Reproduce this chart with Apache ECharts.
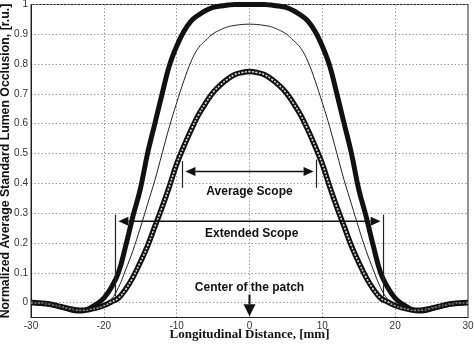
<!DOCTYPE html>
<html>
<head>
<meta charset="utf-8">
<script src="https://cdn.jsdelivr.net/npm/echarts@6/dist/echarts.min.js"></script>
<style>html,body{margin:0;padding:0;background:#fff}#c{width:474px;height:345px}</style>
</head>
<body>
<div id="c"></div>
<script>
// Longitudinal distance [mm]
const xs = [-30,-29,-28,-27,-26,-25,-24,-23,-22,-21,-20,-19,-18,-17,-16,-15,-14,-13,-12,-11,-10,-9,-8,-7,-6,-5,-4,-3,-2,-1,0,
            1,2,3,4,5,6,7,8,9,10,11,12,13,14,15,16,17,18,19,20,21,22,23,24,25,26,27,28,29,30];
// Outer thick curve (peak 1.0, flat top)
const outerCurve = [0,-0.002,-0.004,-0.008,-0.014,-0.021,-0.027,-0.028,-0.02,-0.005,0.015,0.05,0.10,0.19,0.29,0.38,0.50,0.60,0.70,0.795,0.86,0.91,0.945,0.965,0.98,0.99,0.995,0.998,1.0,1.0,1.0,
                    1.0,1.0,0.998,0.995,0.99,0.98,0.965,0.945,0.91,0.86,0.795,0.70,0.60,0.50,0.38,0.29,0.19,0.10,0.05,0.015,-0.005,-0.02,-0.028,-0.027,-0.021,-0.014,-0.008,-0.004,-0.002,0];
// Thin curve (peak ~0.934)
const thinCurve = [0,-0.001,-0.003,-0.007,-0.013,-0.019,-0.024,-0.025,-0.022,-0.016,-0.008,0.01,0.05,0.11,0.175,0.25,0.33,0.41,0.50,0.59,0.67,0.745,0.81,0.855,0.88,0.902,0.915,0.925,0.93,0.933,0.934,
                   0.933,0.93,0.925,0.915,0.902,0.88,0.855,0.81,0.745,0.67,0.59,0.50,0.41,0.33,0.25,0.175,0.11,0.05,0.01,-0.008,-0.016,-0.022,-0.025,-0.024,-0.019,-0.013,-0.007,-0.003,-0.001,0];
// Circle-marker curve (peak ~0.775)
const circleCurve = [0,-0.001,-0.003,-0.007,-0.013,-0.019,-0.024,-0.026,-0.023,-0.018,-0.01,0.002,0.015,0.045,0.085,0.135,0.19,0.255,0.32,0.39,0.465,0.525,0.58,0.63,0.67,0.705,0.73,0.75,0.765,0.772,0.775,
                     0.772,0.765,0.75,0.73,0.705,0.67,0.63,0.58,0.525,0.465,0.39,0.32,0.255,0.19,0.135,0.085,0.045,0.015,0.002,-0.01,-0.018,-0.023,-0.026,-0.024,-0.019,-0.013,-0.007,-0.003,-0.001,0];
// Tick values
const xTicks = [-30,-20,-10,0,10,20,30];
const yTicks = [0,0.1,0.2,0.3,0.4,0.5,0.6,0.7,0.8,0.9,1];
// Annotations (data coordinates)
const annoTexts = [
  {text:'Average Scope', at:[0,0.373]},
  {text:'Extended Scope', at:[0.3,0.231]},
  {text:'Center of the patch', at:[0,0.051]}
];
const annoLines = [
  [-9.2,0.475,-9.2,0.385],[9.2,0.48,9.2,0.385],
  [-18.4,0.295,-18.4,0.02],[18.4,0.295,18.4,0.02]
];
// arrows: [x1,y1,x2,y2,headAt1,headAt2]
const annoArrows = [
  [-8.8,0.44,8.8,0.44,true,true],
  [-18.0,0.273,18.0,0.273,true,true],
  [0,0.027,0,-0.046,false,true]
];

const pairs = arr => xs.map((x,i)=>[x,arr[i]]);
const font = 'Liberation Sans, Arial, Helvetica, sans-serif';

function head(tip, from, len, wid){
  const dx = tip[0]-from[0], dy = tip[1]-from[1];
  const d = Math.hypot(dx,dy)||1, ux=dx/d, uy=dy/d;
  const bx = tip[0]-ux*len, by = tip[1]-uy*len;
  return [[tip[0],tip[1]],[bx-uy*wid/2,by+ux*wid/2],[bx+uy*wid/2,by-ux*wid/2]];
}

const chart = echarts.init(document.getElementById('c'), null, {renderer:'canvas'});
chart.setOption({
  animation:false,
  backgroundColor:'#fff',
  grid:{left:31,right:6,top:4.5,bottom:27.5,show:true,borderColor:'#222',borderWidth:1,backgroundColor:'transparent',
        containLabel:false,outerBoundsMode:'none'},
  xAxis:{
    type:'value',min:-30,max:30,interval:10,
    axisLine:{show:true,onZero:false,lineStyle:{color:'#222',width:1}},
    axisTick:{show:false},
    splitLine:{show:true,lineStyle:{color:'#9a9a9a',width:1,type:[1.5,2]}},
    axisLabel:{color:'#333',fontSize:10,fontFamily:font,margin:4,customValues:xTicks},
    name:'Longitudinal Distance, [mm]',nameLocation:'middle',nameGap:11,nameMoveOverlap:false,
    nameTextStyle:{fontFamily:'Liberation Serif, Times New Roman, serif',fontWeight:'bold',fontSize:13,color:'#111'}
  },
  yAxis:{
    type:'value',min:-0.05,max:1,
    axisLine:{show:true,onZero:false,lineStyle:{color:'#222',width:1}},
    axisTick:{show:false,customValues:yTicks},
    splitLine:{show:true,lineStyle:{color:'#9a9a9a',width:1,type:[1.5,2]}},
    axisLabel:{color:'#333',fontSize:10,fontFamily:font,margin:3,customValues:yTicks,
      formatter:v=>String(+(+v).toFixed(1))},
    name:'Normalized Average Standard Lumen Occlusion, [r.u.]',nameLocation:'middle',nameGap:19,nameRotate:90,nameMoveOverlap:false,
    nameTextStyle:{fontFamily:font,fontWeight:'bold',fontSize:12.3,color:'#111'}
  },
  series:[
    {type:'line',data:pairs(outerCurve),smooth:0.4,showSymbol:false,lineStyle:{color:'#111',width:5},z:2},
    {type:'line',data:pairs(circleCurve),smooth:0.4,showSymbol:false,lineStyle:{color:'#111',width:5.5},z:3},
    {type:'line',data:pairs(circleCurve),smooth:0.4,showSymbol:false,lineStyle:{color:'#d8d8d8',width:1.6,type:[2,1.5]},z:4},
    {type:'line',data:pairs(thinCurve),smooth:0.4,showSymbol:false,lineStyle:{color:'#222',width:1},z:5},
    {type:'custom',coordinateSystem:'cartesian2d',data:[[0,0]],silent:true,z:10,clip:false,
      renderItem:(params,api)=>{
        const ch=[];
        annoLines.forEach(l=>{
          const p1=api.coord([l[0],l[1]]),p2=api.coord([l[2],l[3]]);
          ch.push({type:'line',shape:{x1:p1[0],y1:p1[1],x2:p2[0],y2:p2[1]},style:{stroke:'#222',lineWidth:1.2}});
        });
        annoArrows.forEach(a=>{
          const p1=api.coord([a[0],a[1]]),p2=api.coord([a[2],a[3]]);
          const vertical = Math.abs(p1[0]-p2[0])<1;
          const len = vertical?12:10, wid = vertical?12:9;
          const s1 = a[4]?head(p1,p2,len,wid):null, s2 = a[5]?head(p2,p1,len,wid):null;
          const q1 = a[4]?[(s1[1][0]+s1[2][0])/2,(s1[1][1]+s1[2][1])/2]:p1;
          const q2 = a[5]?[(s2[1][0]+s2[2][0])/2,(s2[1][1]+s2[2][1])/2]:p2;
          ch.push({type:'line',shape:{x1:q1[0],y1:q1[1],x2:q2[0],y2:q2[1]},style:{stroke:'#111',lineWidth:vertical?2:1.4}});
          if(s1) ch.push({type:'polygon',shape:{points:s1},style:{fill:'#111'}});
          if(s2) ch.push({type:'polygon',shape:{points:s2},style:{fill:'#111'}});
        });
        annoTexts.forEach(t=>{
          const p=api.coord(t.at);
          ch.push({type:'text',x:p[0],y:p[1],style:{text:t.text,fontFamily:font,fontWeight:'bold',fontSize:12,fill:'#111',align:'center',verticalAlign:'middle'}});
        });
        return {type:'group',children:ch};
      }
    }
  ]
});
</script>
</body>
</html>
